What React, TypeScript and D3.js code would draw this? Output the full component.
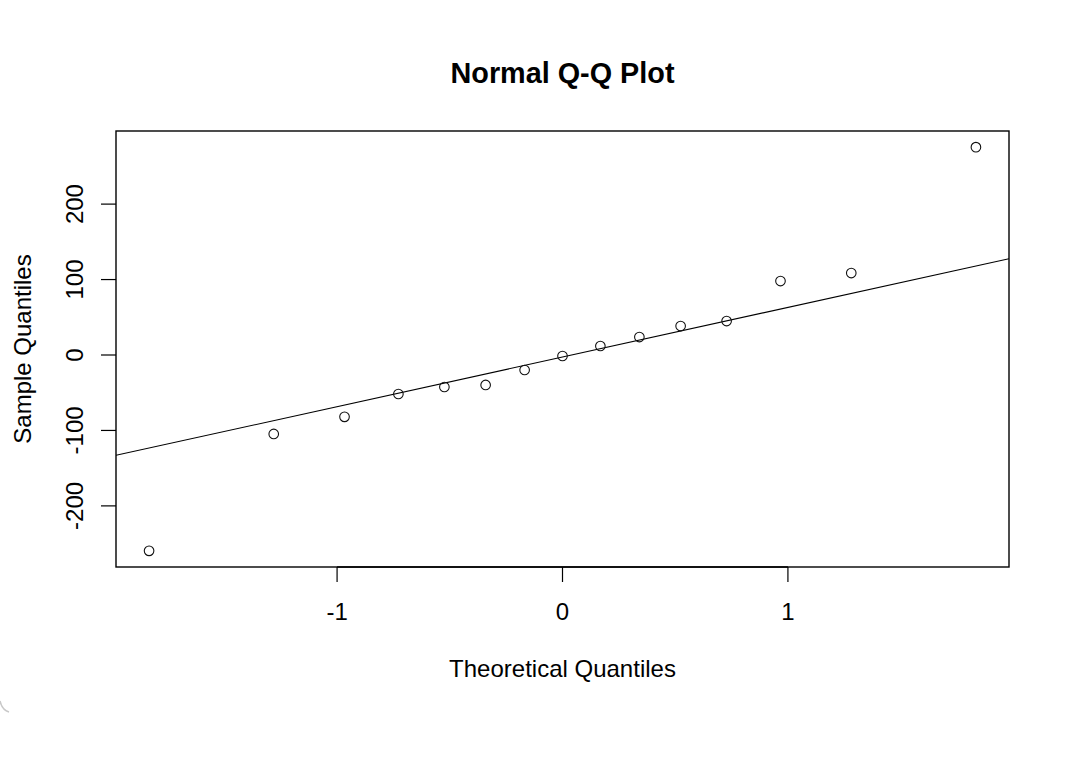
import React from "react";
import * as d3 from "d3";

// Theoretical normal quantiles (ppoints for n = 15)
const theoretical: number[] = [
  -1.834, -1.281, -0.967, -0.728, -0.524, -0.341, -0.168, 0, 0.168, 0.341,
  0.524, 0.728, 0.967, 1.281, 1.834,
];
// Sorted sample values
const sample: number[] = [
  -259.6, -104.6, -82, -51.7, -42.4, -39.7, -19.9, -1.3, 11.9, 23.8, 38.4,
  45, 98, 108.6, 275.5,
];
const xTicks: number[] = [-1, 0, 1];
const yTicks: number[] = [-200, -100, 0, 100, 200];

const TITLE = "Normal Q-Q Plot";
const XLABEL = "Theoretical Quantiles";
const YLABEL = "Sample Quantiles";

const W = 1065;
const H = 768;
const plot = { left: 116, right: 1009, top: 131, bottom: 567 };
const FONT = "'Liberation Sans', Arial, Helvetica, sans-serif";

function extend(ext: [number, number]): [number, number] {
  const d = (ext[1] - ext[0]) * 0.04;
  return [ext[0] - d, ext[1] + d];
}

export default function App() {
  const x = d3
    .scaleLinear()
    .domain(extend(d3.extent(theoretical) as [number, number]))
    .range([plot.left, plot.right]);
  const y = d3
    .scaleLinear()
    .domain(extend(d3.extent(sample) as [number, number]))
    .range([plot.bottom, plot.top]);

  // qqline through first and third quartiles
  const q1 = d3.quantile(sample, 0.25) as number;
  const q3 = d3.quantile(sample, 0.75) as number;
  const z = 0.6744898;
  const slope = (q3 - q1) / (2 * z);
  const intercept = q1 + z * slope;
  const [x0, x1] = x.domain();
  const linePath = d3.line<number>()
    .x((d) => x(d))
    .y((d) => y(intercept + slope * d))([x0, x1]);

  const cx = (plot.left + plot.right) / 2;
  const cy = (plot.top + plot.bottom) / 2;
  const tickLen = 15;

  return (
    <svg
      width={W}
      height={H}
      style={{ position: "absolute", left: 0, top: 0, background: "#fff" }}
      fontFamily={FONT}
    >
      <rect x={0} y={0} width={W} height={H} fill="#fff" />
      <path d="M0,701 Q2,710 9,712" fill="none" stroke="#c8c8c8" strokeWidth={1.5} />
      <defs>
        <clipPath id="plotclip">
          <rect
            x={plot.left}
            y={plot.top}
            width={plot.right - plot.left}
            height={plot.bottom - plot.top}
          />
        </clipPath>
      </defs>
      {/* title */}
      <text x={cx} y={83} textAnchor="middle" fontSize={28.8} fontWeight="bold" fill="#000">
        {TITLE}
      </text>
      {/* qq line */}
      <path d={linePath || ""} fill="none" stroke="#000" strokeWidth={1.1} clipPath="url(#plotclip)" />
      {/* points */}
      {theoretical.map((t, i) => (
        <circle
          key={i}
          cx={x(t)}
          cy={y(sample[i])}
          r={4.8}
          fill="none"
          stroke="#111"
          strokeWidth={1.1}
        />
      ))}
      {/* box */}
      <rect
        x={plot.left}
        y={plot.top}
        width={plot.right - plot.left}
        height={plot.bottom - plot.top}
        fill="none"
        stroke="#000"
        strokeWidth={1.4}
      />
      {/* x axis */}
      <line
        x1={x(xTicks[0])}
        x2={x(xTicks[xTicks.length - 1])}
        y1={plot.bottom}
        y2={plot.bottom}
        stroke="#000"
        strokeWidth={1.4}
      />
      {xTicks.map((t) => (
        <g key={t}>
          <line x1={x(t)} x2={x(t)} y1={plot.bottom} y2={plot.bottom + tickLen} stroke="#000" strokeWidth={1.2} />
          <text x={x(t)} y={620} textAnchor="middle" fontSize={24} fill="#000">
            {t}
          </text>
        </g>
      ))}
      {/* y axis */}
      {yTicks.map((t) => (
        <g key={t}>
          <line x1={plot.left - tickLen} x2={plot.left} y1={y(t)} y2={y(t)} stroke="#000" strokeWidth={1.2} />
          <text
            transform={`translate(83,${y(t)}) rotate(-90)`}
            textAnchor="middle"
            fontSize={24}
            fill="#000"
          >
            {t}
          </text>
        </g>
      ))}
      {/* axis titles */}
      <text x={cx} y={677} textAnchor="middle" fontSize={24} fill="#000">
        {XLABEL}
      </text>
      <text
        transform={`translate(31,${cy}) rotate(-90)`}
        textAnchor="middle"
        fontSize={24}
        fill="#000"
      >
        {YLABEL}
      </text>
    </svg>
  );
}
